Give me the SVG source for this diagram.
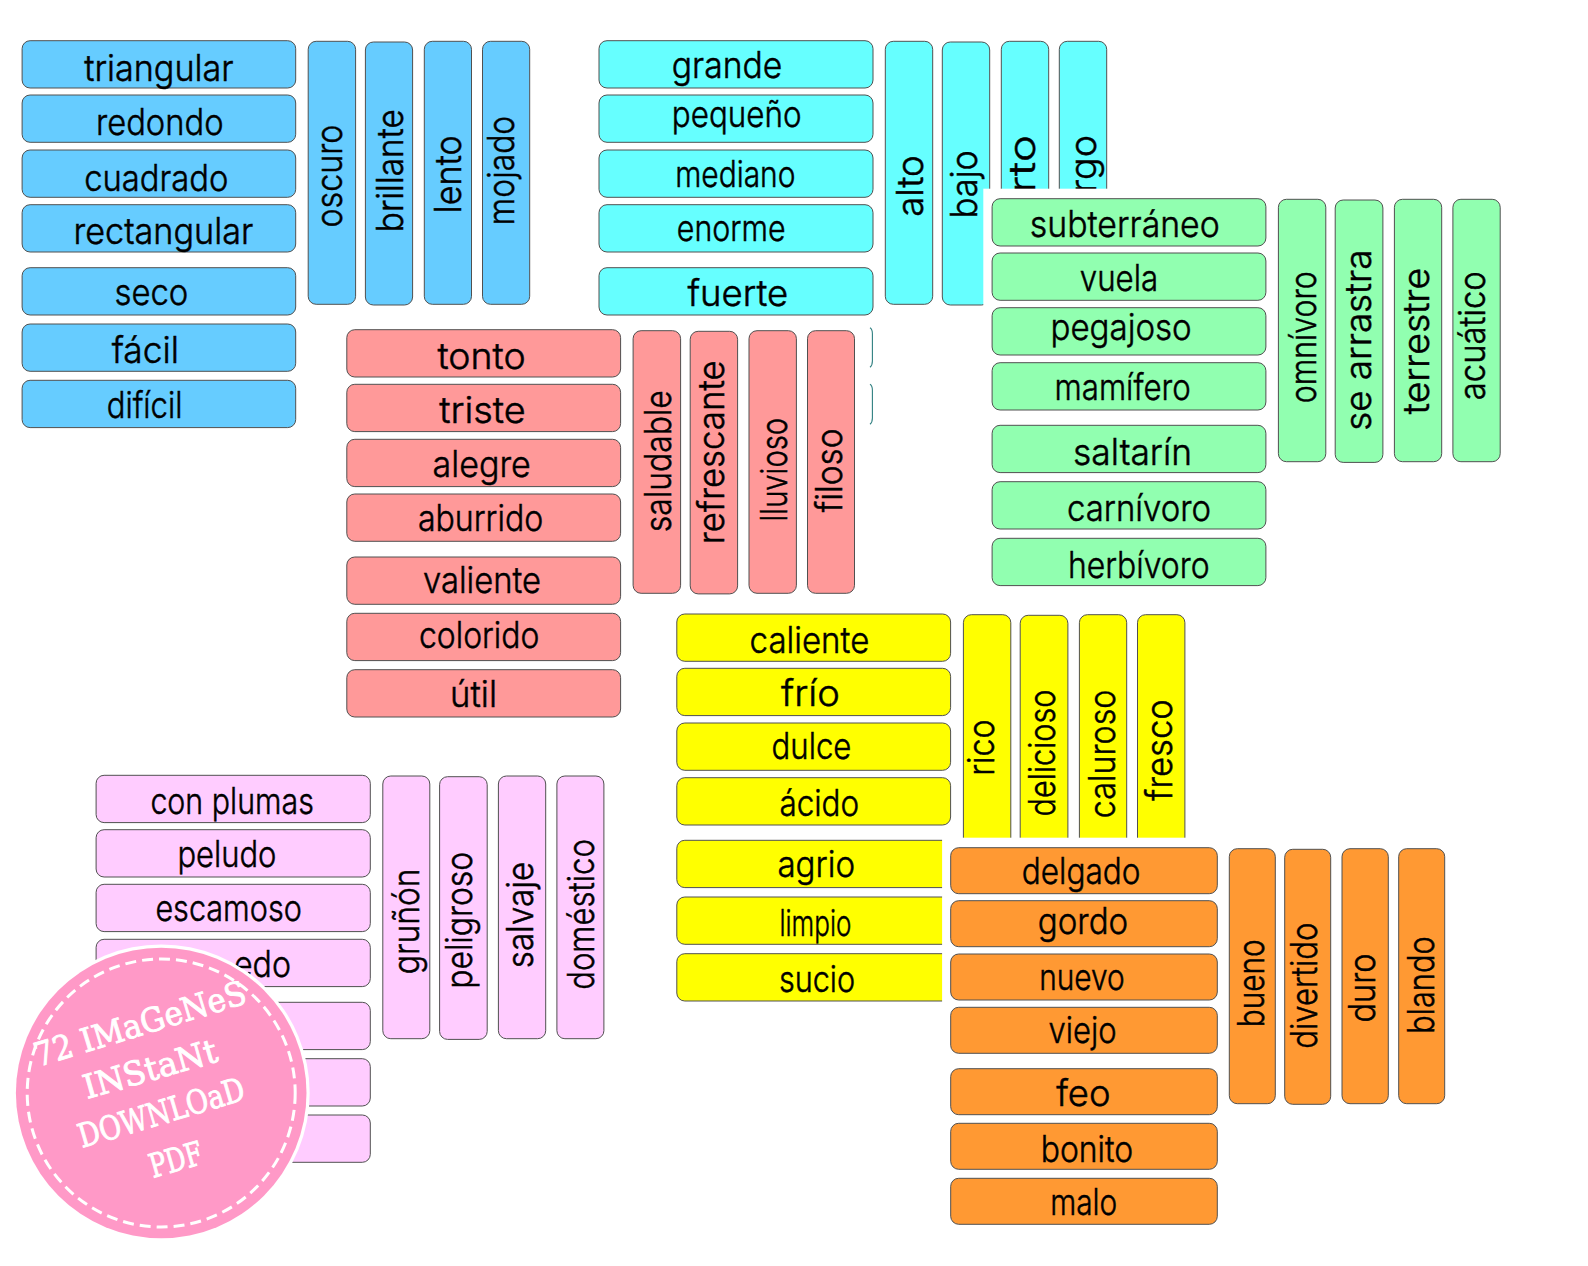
<svg xmlns="http://www.w3.org/2000/svg" width="1588" height="1266" viewBox="0 0 1588 1266">
<style>
rect.c{stroke:#505050;stroke-width:1}
.blue{fill:#66ccff}.cyan{fill:#66ffff}.red{fill:#ff9999}.green{fill:#91ffb0}.yellow{fill:#ffff00}.purple{fill:#ffccff}.orange{fill:#ff9933}
text.t{font-family:"Inter","DejaVu Sans",sans-serif;font-size:37px;font-weight:300;fill:#000;stroke:#000;stroke-width:.5}
text.b{font-family:"DejaVu Serif","Liberation Serif",serif;font-size:33px;fill:#fff;stroke:#fff;stroke-width:.9}
</style>
<rect width="1588" height="1266" fill="#fff"/>
<g id="blue-group">
<g id="triangular"><rect class="c blue" x="22.1" y="40.7" width="273.6" height="47.3" rx="8"/><text class="t" x="84.2" y="81" textLength="149.4" lengthAdjust="spacingAndGlyphs">triangular</text></g>
<g id="redondo"><rect class="c blue" x="22.1" y="95" width="273.6" height="47.3" rx="8"/><text class="t" x="96" y="135" textLength="127.6" lengthAdjust="spacingAndGlyphs">redondo</text></g>
<g id="cuadrado"><rect class="c blue" x="22.1" y="150" width="273.6" height="47.3" rx="8"/><text class="t" x="84.2" y="191" textLength="144.1" lengthAdjust="spacingAndGlyphs">cuadrado</text></g>
<g id="rectangular"><rect class="c blue" x="22.1" y="204.7" width="273.6" height="47.3" rx="8"/><text class="t" x="73.5" y="243.7" textLength="179.8" lengthAdjust="spacingAndGlyphs">rectangular</text></g>
<g id="seco"><rect class="c blue" x="22.1" y="267.7" width="273.6" height="47.3" rx="8"/><text class="t" x="114.5" y="305" textLength="73.8" lengthAdjust="spacingAndGlyphs">seco</text></g>
<g id="facil"><rect class="c blue" x="22.1" y="324" width="273.6" height="47.3" rx="8"/><text class="t" x="111.7" y="363.3" textLength="67.3" lengthAdjust="spacingAndGlyphs">fácil</text></g>
<g id="dificil"><rect class="c blue" x="22.1" y="380.3" width="273.6" height="47.3" rx="8"/><text class="t" x="106.7" y="418.3" textLength="75.8" lengthAdjust="spacingAndGlyphs">difícil</text></g>
<g id="oscuro"><rect class="c blue" x="308.2" y="41.3" width="47.4" height="263" rx="8"/><text class="t" transform="translate(342 227.5) rotate(-90)" textLength="103" lengthAdjust="spacingAndGlyphs">oscuro</text></g>
<g id="brillante"><rect class="c blue" x="365.4" y="42" width="47.2" height="263" rx="8"/><text class="t" transform="translate(403 232.2) rotate(-90)" textLength="123" lengthAdjust="spacingAndGlyphs">brillante</text></g>
<g id="lento"><rect class="c blue" x="424.3" y="41.3" width="47.2" height="263" rx="8"/><text class="t" transform="translate(460.5 213.2) rotate(-90)" textLength="78" lengthAdjust="spacingAndGlyphs">lento</text></g>
<g id="mojado"><rect class="c blue" x="482.5" y="41.3" width="47.2" height="263" rx="8"/><text class="t" transform="translate(513.5 225.5) rotate(-90)" textLength="109.7" lengthAdjust="spacingAndGlyphs">mojado</text></g>
</g>
<g id="cyan-group">
<g id="grande"><rect class="c cyan" x="599" y="40.7" width="274" height="47.3" rx="8"/><text class="t" x="671.8" y="77.7" textLength="110.4" lengthAdjust="spacingAndGlyphs">grande</text></g>
<g id="pequeno"><rect class="c cyan" x="599" y="95" width="274" height="47.3" rx="8"/><text class="t" x="671.8" y="127" textLength="129.7" lengthAdjust="spacingAndGlyphs">pequeño</text></g>
<g id="mediano"><rect class="c cyan" x="599" y="150" width="274" height="47.3" rx="8"/><text class="t" x="675.2" y="187" textLength="120.3" lengthAdjust="spacingAndGlyphs">mediano</text></g>
<g id="enorme"><rect class="c cyan" x="599" y="204.7" width="274" height="47.3" rx="8"/><text class="t" x="676.8" y="241" textLength="108.7" lengthAdjust="spacingAndGlyphs">enorme</text></g>
<g id="fuerte"><rect class="c cyan" x="599" y="267.7" width="274" height="47.3" rx="8"/><text class="t" x="687.5" y="306" textLength="100.7" lengthAdjust="spacingAndGlyphs">fuerte</text></g>
<g id="cyan-rest"><path d="M870 327.7q2.4 1.5 2.4 6V361q0 4.500-2.400 6.300M870 384.300q2.400 1.500 2.400 6v27.700q0 4.500-2.400 6.300" fill="none" stroke="#2f7f80" stroke-width="1.100"/></g>
<g id="alto"><rect class="c cyan" x="885.3" y="41.3" width="47.4" height="263" rx="8"/><text class="t" transform="translate(923 216.8) rotate(-90)" textLength="61.6" lengthAdjust="spacingAndGlyphs">alto</text></g>
<g id="bajo"><rect class="c cyan" x="942.3" y="42" width="47.4" height="263" rx="8"/><text class="t" transform="translate(977 218.2) rotate(-90)" textLength="68" lengthAdjust="spacingAndGlyphs">bajo</text></g>
<g id="cyan-col3"><rect class="c cyan" x="1001.3" y="41.3" width="47.4" height="263" rx="8"/><text class="t" transform="translate(1035 193) rotate(-90)" textLength="58" lengthAdjust="spacingAndGlyphs">rto</text></g>
<g id="cyan-col4"><rect class="c cyan" x="1059.3" y="41.3" width="47.4" height="263" rx="8"/><text class="t" transform="translate(1096 193) rotate(-90)" textLength="58" lengthAdjust="spacingAndGlyphs">rgo</text></g>
</g>
<g id="green-group">
<rect id="green-backing" x="983.3" y="188.7" width="140" height="125" fill="#fff"/>
<g id="subterraneo"><rect class="c green" x="992.1" y="198.7" width="273.8" height="47.3" rx="8"/><text class="t" x="1029.8" y="237" textLength="190" lengthAdjust="spacingAndGlyphs">subterráneo</text></g>
<g id="vuela"><rect class="c green" x="992.1" y="253" width="273.8" height="47.3" rx="8"/><text class="t" x="1079.8" y="291" textLength="78.4" lengthAdjust="spacingAndGlyphs">vuela</text></g>
<g id="pegajoso"><rect class="c green" x="992.1" y="307.7" width="273.8" height="47.3" rx="8"/><text class="t" x="1050.5" y="340" textLength="141.2" lengthAdjust="spacingAndGlyphs">pegajoso</text></g>
<g id="mamifero"><rect class="c green" x="992.1" y="362.7" width="273.8" height="47.3" rx="8"/><text class="t" x="1054.5" y="400" textLength="136.2" lengthAdjust="spacingAndGlyphs">mamífero</text></g>
<g id="saltarin"><rect class="c green" x="992.1" y="425.3" width="273.8" height="47.3" rx="8"/><text class="t" x="1073.1" y="465" textLength="118.9" lengthAdjust="spacingAndGlyphs">saltarín</text></g>
<g id="carnivoro"><rect class="c green" x="992.1" y="481.7" width="273.8" height="47.3" rx="8"/><text class="t" x="1067" y="521" textLength="144" lengthAdjust="spacingAndGlyphs">carnívoro</text></g>
<g id="herbivoro"><rect class="c green" x="992.1" y="538.3" width="273.8" height="47.3" rx="8"/><text class="t" x="1068" y="577.7" textLength="141.6" lengthAdjust="spacingAndGlyphs">herbívoro</text></g>
<g id="omnivoro"><rect class="c green" x="1278.4" y="199.3" width="47.4" height="262.4" rx="8"/><text class="t" transform="translate(1315.6 403.2) rotate(-90)" textLength="132" lengthAdjust="spacingAndGlyphs">omnívoro</text></g>
<g id="se-arrastra"><rect class="c green" x="1335.2" y="200" width="47.7" height="262.4" rx="8"/><text class="t" transform="translate(1371.4 430.8) rotate(-90)" textLength="181.3" lengthAdjust="spacingAndGlyphs">se arrastra</text></g>
<g id="terrestre"><rect class="c green" x="1394.4" y="199.3" width="47.3" height="262.4" rx="8"/><text class="t" transform="translate(1428.5 414.2) rotate(-90)" textLength="146.4" lengthAdjust="spacingAndGlyphs">terrestre</text></g>
<g id="acuatico"><rect class="c green" x="1452.9" y="199.3" width="47.3" height="262.4" rx="8"/><text class="t" transform="translate(1485.3 400.2) rotate(-90)" textLength="129" lengthAdjust="spacingAndGlyphs">acuático</text></g>
</g>
<g id="red-group">
<g id="tonto"><rect class="c red" x="346.8" y="329.7" width="273.8" height="47.3" rx="8"/><text class="t" x="437.5" y="369.3" textLength="88.2" lengthAdjust="spacingAndGlyphs">tonto</text></g>
<g id="triste"><rect class="c red" x="346.8" y="384.3" width="273.8" height="47.3" rx="8"/><text class="t" x="439.2" y="423.3" textLength="86.5" lengthAdjust="spacingAndGlyphs">triste</text></g>
<g id="alegre"><rect class="c red" x="346.8" y="439.3" width="273.8" height="47.3" rx="8"/><text class="t" x="432.5" y="476.7" textLength="98.3" lengthAdjust="spacingAndGlyphs">alegre</text></g>
<g id="aburrido"><rect class="c red" x="346.8" y="494" width="273.8" height="47.3" rx="8"/><text class="t" x="417.9" y="531.3" textLength="125.4" lengthAdjust="spacingAndGlyphs">aburrido</text></g>
<g id="valiente"><rect class="c red" x="346.8" y="557" width="273.8" height="47.3" rx="8"/><text class="t" x="423" y="593.3" textLength="118" lengthAdjust="spacingAndGlyphs">valiente</text></g>
<g id="colorido"><rect class="c red" x="346.8" y="613.3" width="273.8" height="47.3" rx="8"/><text class="t" x="419" y="648.3" textLength="120.3" lengthAdjust="spacingAndGlyphs">colorido</text></g>
<g id="util"><rect class="c red" x="346.8" y="669.7" width="273.8" height="47.3" rx="8"/><text class="t" x="450.1" y="707" textLength="46.9" lengthAdjust="spacingAndGlyphs">útil</text></g>
<g id="saludable"><rect class="c red" x="633.1" y="330.7" width="47.5" height="262.600" rx="8"/><text class="t" transform="translate(670.6 532.2) rotate(-90)" textLength="142" lengthAdjust="spacingAndGlyphs">saludable</text></g>
<g id="refrescante"><rect class="c red" x="690.2" y="331.3" width="47.4" height="262.600" rx="8"/><text class="t" transform="translate(724.2 544.2) rotate(-90)" textLength="184" lengthAdjust="spacingAndGlyphs">refrescante</text></g>
<g id="lluvioso"><rect class="c red" x="749" y="330.7" width="47.4" height="262.600" rx="8"/><text class="t" transform="translate(786.7 521.5) rotate(-90)" textLength="103.7" lengthAdjust="spacingAndGlyphs">lluvioso</text></g>
<g id="filoso"><rect class="c red" x="807.5" y="330.7" width="47" height="262.600" rx="8"/><text class="t" transform="translate(841.5 512.2) rotate(-90)" textLength="83.7" lengthAdjust="spacingAndGlyphs">filoso</text></g>
</g>
<g id="yellow-group">
<g id="caliente"><rect class="c yellow" x="676.8" y="614" width="273.8" height="47.3" rx="8"/><text class="t" x="749.6" y="652.7" textLength="119.7" lengthAdjust="spacingAndGlyphs">caliente</text></g>
<g id="frio"><rect class="c yellow" x="676.8" y="668.3" width="273.8" height="47.3" rx="8"/><text class="t" x="781.1" y="706" textLength="58.8" lengthAdjust="spacingAndGlyphs">frío</text></g>
<g id="dulce"><rect class="c yellow" x="676.8" y="723" width="273.8" height="47.3" rx="8"/><text class="t" x="771.6" y="758.7" textLength="79.8" lengthAdjust="spacingAndGlyphs">dulce</text></g>
<g id="acido"><rect class="c yellow" x="676.8" y="777.7" width="273.8" height="47.3" rx="8"/><text class="t" x="779.4" y="816" textLength="79.7" lengthAdjust="spacingAndGlyphs">ácido</text></g>
<g id="agrio"><rect class="c yellow" x="676.8" y="840.3" width="273.8" height="47.3" rx="8"/><text class="t" x="777.4" y="877" textLength="77.7" lengthAdjust="spacingAndGlyphs">agrio</text></g>
<g id="limpio"><rect class="c yellow" x="676.8" y="897" width="273.8" height="47.3" rx="8"/><text class="t" x="779.4" y="935.5" textLength="72" lengthAdjust="spacingAndGlyphs">limpio</text></g>
<g id="sucio"><rect class="c yellow" x="676.8" y="953.7" width="273.8" height="47.3" rx="8"/><text class="t" x="779" y="991.5" textLength="76.1" lengthAdjust="spacingAndGlyphs">sucio</text></g>
<g id="rico"><rect class="c yellow" x="963.4" y="614.7" width="47.4" height="263" rx="8"/><text class="t" transform="translate(994.4 775.8) rotate(-90)" textLength="56.3" lengthAdjust="spacingAndGlyphs">rico</text></g>
<g id="delicioso"><rect class="c yellow" x="1020.2" y="615.3" width="47.7" height="263" rx="8"/><text class="t" transform="translate(1055.4 816.5) rotate(-90)" textLength="127" lengthAdjust="spacingAndGlyphs">delicioso</text></g>
<g id="caluroso"><rect class="c yellow" x="1079.4" y="614.7" width="47.3" height="263" rx="8"/><text class="t" transform="translate(1114.5 818.2) rotate(-90)" textLength="128.7" lengthAdjust="spacingAndGlyphs">caluroso</text></g>
<g id="fresco"><rect class="c yellow" x="1137.5" y="614.7" width="47.4" height="263" rx="8"/><text class="t" transform="translate(1172.3 800.8) rotate(-90)" textLength="101.6" lengthAdjust="spacingAndGlyphs">fresco</text></g>
</g>
<g id="orange-group">
<rect id="orange-backing" x="942.1" y="837.7" width="270" height="170" fill="#fff"/>
<g id="delgado"><rect class="c orange" x="950.7" y="847.7" width="266.6" height="46" rx="8"/><text class="t" x="1021.8" y="883.7" textLength="118.7" lengthAdjust="spacingAndGlyphs">delgado</text></g>
<g id="gordo"><rect class="c orange" x="950.7" y="900.7" width="266.6" height="46" rx="8"/><text class="t" x="1037.8" y="933.8" textLength="90.4" lengthAdjust="spacingAndGlyphs">gordo</text></g>
<g id="nuevo"><rect class="c orange" x="950.7" y="954" width="266.6" height="46" rx="8"/><text class="t" x="1039.2" y="990" textLength="85.6" lengthAdjust="spacingAndGlyphs">nuevo</text></g>
<g id="viejo"><rect class="c orange" x="950.7" y="1007.3" width="266.6" height="46" rx="8"/><text class="t" x="1048.5" y="1043" textLength="68" lengthAdjust="spacingAndGlyphs">viejo</text></g>
<g id="feo"><rect class="c orange" x="950.7" y="1068.7" width="266.6" height="46" rx="8"/><text class="t" x="1056.2" y="1106" textLength="54.3" lengthAdjust="spacingAndGlyphs">feo</text></g>
<g id="bonito"><rect class="c orange" x="950.7" y="1123.3" width="266.6" height="46" rx="8"/><text class="t" x="1040.8" y="1162.2" textLength="92.4" lengthAdjust="spacingAndGlyphs">bonito</text></g>
<g id="malo"><rect class="c orange" x="950.7" y="1178.3" width="266.6" height="46" rx="8"/><text class="t" x="1050.2" y="1215" textLength="67" lengthAdjust="spacingAndGlyphs">malo</text></g>
<g id="bueno"><rect class="c orange" x="1229.3" y="848.7" width="46" height="255" rx="8"/><text class="t" transform="translate(1264.3 1027.2) rotate(-90)" textLength="88" lengthAdjust="spacingAndGlyphs">bueno</text></g>
<g id="divertido"><rect class="c orange" x="1284.7" y="849.3" width="46" height="255" rx="8"/><text class="t" transform="translate(1317 1048.8) rotate(-90)" textLength="126.3" lengthAdjust="spacingAndGlyphs">divertido</text></g>
<g id="duro"><rect class="c orange" x="1342" y="848.7" width="46.3" height="255" rx="8"/><text class="t" transform="translate(1375.3 1022.5) rotate(-90)" textLength="69" lengthAdjust="spacingAndGlyphs">duro</text></g>
<g id="blando"><rect class="c orange" x="1398.7" y="848.7" width="46" height="255" rx="8"/><text class="t" transform="translate(1434.3 1033.8) rotate(-90)" textLength="97.6" lengthAdjust="spacingAndGlyphs">blando</text></g>
</g>
<g id="purple-group">
<g id="con-plumas"><rect class="c purple" x="96.1" y="775.3" width="274.2" height="47.3" rx="8"/><text class="t" x="150.4" y="813.5" textLength="163.5" lengthAdjust="spacingAndGlyphs">con plumas</text></g>
<g id="peludo"><rect class="c purple" x="96.1" y="829.7" width="274.2" height="47.3" rx="8"/><text class="t" x="177.4" y="866.5" textLength="99" lengthAdjust="spacingAndGlyphs">peludo</text></g>
<g id="escamoso"><rect class="c purple" x="96.1" y="884.3" width="274.2" height="47.3" rx="8"/><text class="t" x="155.4" y="921.2" textLength="146.4" lengthAdjust="spacingAndGlyphs">escamoso</text></g>
<g id="purple-row4"><rect class="c purple" x="96.1" y="939.3" width="274.2" height="47.3" rx="8"/><text class="t" x="234" y="976.5" textLength="57" lengthAdjust="spacingAndGlyphs">edo</text></g>
<g id="purple-row5"><rect class="c purple" x="96.1" y="1002.3" width="274.2" height="47.3" rx="8"/></g>
<g id="purple-row6"><rect class="c purple" x="96.1" y="1058.7" width="274.2" height="47.3" rx="8"/></g>
<g id="purple-row7"><rect class="c purple" x="96.1" y="1115" width="274.2" height="47.3" rx="8"/></g>
<g id="grunon"><rect class="c purple" x="382.8" y="776" width="47" height="262.700" rx="8"/><text class="t" transform="translate(418.9 974.2) rotate(-90)" textLength="105.7" lengthAdjust="spacingAndGlyphs">gruñón</text></g>
<g id="peligroso"><rect class="c purple" x="439.6" y="776.700" width="47.600" height="262.700" rx="8"/><text class="t" transform="translate(472.3 988.8) rotate(-90)" textLength="137" lengthAdjust="spacingAndGlyphs">peligroso</text></g>
<g id="salvaje"><rect class="c purple" x="498.4" y="776" width="47.3" height="262.700" rx="8"/><text class="t" transform="translate(532.9 968.2) rotate(-90)" textLength="106.4" lengthAdjust="spacingAndGlyphs">salvaje</text></g>
<g id="domestico"><rect class="c purple" x="556.9" y="776" width="47" height="262.700" rx="8"/><text class="t" transform="translate(593.7 989.8) rotate(-90)" textLength="150.6" lengthAdjust="spacingAndGlyphs">doméstico</text></g>
</g>
<g id="badge">
<circle cx="161.200" cy="1093" r="148.500" fill="#fff"/>
<circle cx="161.200" cy="1093" r="145.300" fill="#ff99c7"/>
<circle cx="161.200" cy="1093" r="134" fill="none" stroke="#fff" stroke-width="3" stroke-dasharray="11 6"/>
<text class="b" transform="translate(38 1067) rotate(-17)" textLength="220" lengthAdjust="spacingAndGlyphs">72 IMaGeNeS</text>
<text class="b" transform="translate(87 1099) rotate(-16)" textLength="138" lengthAdjust="spacingAndGlyphs">INStaNt</text>
<text class="b" transform="translate(82 1148) rotate(-16.500)" textLength="172" lengthAdjust="spacingAndGlyphs">DOWNLOaD</text>
<text class="b" transform="translate(153 1178) rotate(-16)" textLength="54" lengthAdjust="spacingAndGlyphs">PDF</text>
</g>
</svg>
